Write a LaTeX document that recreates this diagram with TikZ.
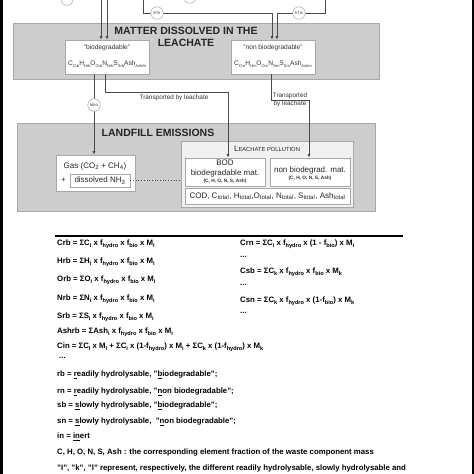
\documentclass[tikz,border=0pt]{standalone}
\usepackage{fontspec}
\setmainfont{Liberation Sans}
\usetikzlibrary{arrows.meta}
\definecolor{boxgray}{HTML}{CDCDCD}
\definecolor{linegray}{HTML}{4A4A4A}
\definecolor{edgegray}{HTML}{A8A8A8}
\definecolor{lpfill}{HTML}{F1F1F1}
\newcommand\sbs[1]{\textsubscript{#1}}
\newcommand\tsb[1]{\raisebox{-0.45ex}{\fontsize{4}{4}\selectfont #1}}
\newcommand\esb[1]{\raisebox{-0.45ex}{\fontsize{5.6}{6}\selectfont #1}}
\begin{document}
\begin{tikzpicture}[x=1pt,y=-1pt,
  panel/.style={fill=boxgray,draw=edgegray,line width=0.4pt,inner sep=0},
  wbox/.style={fill=white,draw=edgegray,line width=0.6pt,inner sep=0},
  conn/.style={draw=linegray,line width=0.7pt},
  arr/.style={conn,-{Latex[length=3.5pt,width=3pt]}},
  rate/.style={circle,draw=edgegray,fill=white,minimum size=12.5pt,inner sep=0,line width=0.5pt,font=\fontsize{4.3}{5}\selectfont,text=black!75},
  ptitle/.style={font=\fontsize{10.5}{12}\selectfont\bfseries,text=black!85,align=center,inner sep=0},
  small/.style={font=\fontsize{6.6}{7.5}\selectfont,text=black!80,inner sep=0,align=center},
  mid/.style={font=\fontsize{8}{11}\selectfont,text=black!85,inner sep=0,align=center},
  tiny/.style={inner sep=0,font=\fontsize{4.8}{5}\selectfont\bfseries,text=black!80},
  eq/.style={anchor=west,font=\fontsize{7.8}{9}\selectfont\bfseries,inner sep=0},
]
\useasboundingbox (0,0) rectangle (474,474);
\clip (0,0) rectangle (474,474);
\fill[white] (0,0) rectangle (474,474);
\fill[black] (0,0) rectangle (2.5,474);
\fill[black] (471.5,0) rectangle (474,474);

% ---------- matter dissolved ----------
\node[panel,minimum width=366pt,minimum height=56pt] (matter) at (196,51) {};
\node[ptitle] (mattertitle) at (186,37) {MATTER DISSOLVED IN THE\\LEACHATE};
\node[wbox,minimum width=84pt,minimum height=34pt] (bio) at (107,57) {};
\node[wbox,minimum width=84pt,minimum height=34pt] (non) at (273,57) {};
\node[small] (biotxt) at (107,48) {"biodegradable"};
\node[small] (biof) at (107,64) {C\tsb{Crb}H\tsb{Hrb}O\tsb{Orb}N\tsb{Nrb}S\tsb{Srb}Ash\tsb{Ashrb}};
\node[small] (nontxt) at (273,48) {"non biodegradable"};
\node[small] (nonf) at (273,64) {C\tsb{Crn}H\tsb{Hrn}O\tsb{Orn}N\tsb{Nrn}S\tsb{Srn}Ash\tsb{Ashrn}};

% ---------- top connectors ----------
\coordinate (t1) at (101,-5);
\coordinate (t2) at (107,-5);
\coordinate (t3) at (143,-5);
\coordinate (t4) at (325,-5);
\coordinate (k1) at (272,13);
\coordinate (k2) at (277,13);
\draw[arr] (t1) -- (t1 |- bio.north);
\draw[arr] (t2) -- (t2 |- bio.north);
\draw[arr] (t3) |- (k1) -- (k1 |- non.north);
\draw[arr] (t4) |- (k2) -- (k2 |- non.north);
\node[rate] (khr) at (157,13) {k'hr};
\node[rate] (khs) at (299,13) {k'hs};
\node[rate] (cut1) at (67,-1) {};
\node[rate] (cut2) at (190,-3) {};

% ---------- landfill emissions ----------
\node[panel,minimum width=358pt,minimum height=88pt] (landfill) at (196,167) {};
\node[ptitle] (landtitle) at (158,133) {LANDFILL EMISSIONS};
\node[wbox,minimum width=79pt,minimum height=36pt] (gas) at (95.5,173) {};
\node[mid] (gastxt) at (95,166) {Gas (CO\sbs{2} + CH\sbs{4})};
\node[wbox,minimum width=60pt,minimum height=13pt,font=\fontsize{8}{9}\selectfont,text=black!85] (nh3) at (100,180.5) {dissolved NH\sbs{3}};
\node[mid] (plus) at (63.5,180.5) {+};
\node[fill=lpfill,draw=edgegray,line width=0.5pt,inner sep=0,minimum width=172pt,minimum height=66pt] (lp) at (267,174) {};
\node[inner sep=0,text=black!85] (lptitle) at (267,149) {{\fontsize{8}{9}\selectfont L}{\fontsize{5.8}{6}\selectfont EACHATE POLLUTION}};
\node[wbox,minimum width=80pt,minimum height=28pt] (bod) at (225,172) {};
\node[wbox,minimum width=80pt,minimum height=28pt] (nbd) at (310,172) {};
\node[wbox,minimum width=165pt,minimum height=16pt] (cod) at (267.5,196) {};
\node[mid,font=\fontsize{8}{10.5}\selectfont] (bodtxt) at (225,168.5) {BOD\\biodegradable mat.};
\node[tiny] (bodel) at (225,181) {(C, H, O, N, S, Ash)};
\node[mid] (nbdtxt) at (310,170) {non biodegrad. mat.};
\node[tiny] (nbdel) at (310,178) {(C, H, O, N, S, Ash)};
\node[mid] (codtxt) at (267.5,196) {COD, C\sbs{total}, H\sbs{total},O\sbs{total}, N\sbs{total}, S\sbs{total}, Ash\sbs{total}};

% ---------- middle connectors ----------
\coordinate (b1) at (94,74);
\coordinate (b2) at (105,92);
\coordinate (b3) at (228,92);
\coordinate (n1) at (271,100);
\coordinate (n2) at (309,100);
\draw[arr] (b1) -- (b1 |- gas.north);
\draw[arr] (b2 |- bio.south) -- (b2) -- (b3) -- (b3 |- bod.north);
\draw[arr] (n1 |- non.south) -- (n1) -- (n2) -- (n2 |- nbd.north);
\node[rate] (kbio) at (94,105) {kbio};
\node[small,font=\fontsize{6.4}{7}\selectfont] (trans1) at (174,98) {Transported by leachate};
\node[small,font=\fontsize{6.4}{7.8}\selectfont] (trans2) at (290,100) {Transported\\by leachate};
\draw[linegray,line width=0.7pt,dotted] (nh3.east) -- (nh3.east -| lp.west);

% ---------- equations ----------
\draw[black,line width=1.2pt] (55,236) -- (403,236);
\node[eq] (e1) at (57,244) {Crb = ΣC\esb{i} x f\esb{hydro} x f\esb{bio} x M\esb{i}};
\node[eq] (e2) at (57,262) {Hrb = ΣH\esb{i} x f\esb{hydro} x f\esb{bio} x M\esb{i}};
\node[eq] (e3) at (57,280) {Orb = ΣO\esb{i} x f\esb{hydro} x f\esb{bio} x M\esb{i}};
\node[eq] (e4) at (57,299) {Nrb = ΣN\esb{i} x f\esb{hydro} x f\esb{bio} x M\esb{i}};
\node[eq] (e5) at (57,317) {Srb = ΣS\esb{i} x f\esb{hydro} x f\esb{bio} x M\esb{i}};
\node[eq] (e6) at (57,332) {Ashrb = ΣAsh\esb{i} x f\esb{hydro} x f\esb{bio} x M\esb{i}};
\node[eq] (e7) at (57,347) {Cin = ΣC\esb{l} x M\esb{l} + ΣC\esb{i} x (1-f\esb{hydro}) x M\esb{i} + ΣC\esb{k} x (1-f\esb{hydro}) x M\esb{k}};
\node[eq] (e8) at (59,358) {...};
\node[eq] (e9) at (57,375) {rb = \underline{r}eadily hydrolysable, "\underline{b}iodegradable";};
\node[eq] (e10) at (57,392) {rn = \underline{r}eadily hydrolysable, "\underline{n}on biodegradable";};
\node[eq] (e11) at (57,406) {sb = \underline{s}lowly hydrolysable, "\underline{b}iodegradable";};
\node[eq] (e12) at (57,422) {sn = \underline{s}lowly hydrolysable, \ "\underline{n}on biodegradable";};
\node[eq] (e13) at (57,437) {in = \underline{in}ert};
\node[eq] (e14) at (57,452) {C, H, O, N, S, Ash : the corresponding element fraction of the waste component mass};
\node[eq] (e15) at (57,468) {"I", "k", "l" represent, respectively, the different readily hydrolysable, slowly hydrolysable and};

\node[eq] (r1) at (240,244) {Crn = ΣC\esb{i} x f\esb{hydro} x (1 - f\esb{bio}) x M\esb{i}};
\node[eq] (r2) at (240,257) {...};
\node[eq] (r3) at (240,272) {Csb = ΣC\esb{k} x f\esb{hydro} x f\esb{bio} x M\esb{k}};
\node[eq] (r4) at (240,285) {...};
\node[eq] (r5) at (240,301) {Csn = ΣC\esb{k} x f\esb{hydro} x (1-f\esb{bio}) x M\esb{k}};
\node[eq] (r6) at (240,313) {...};
\end{tikzpicture}
\end{document}
